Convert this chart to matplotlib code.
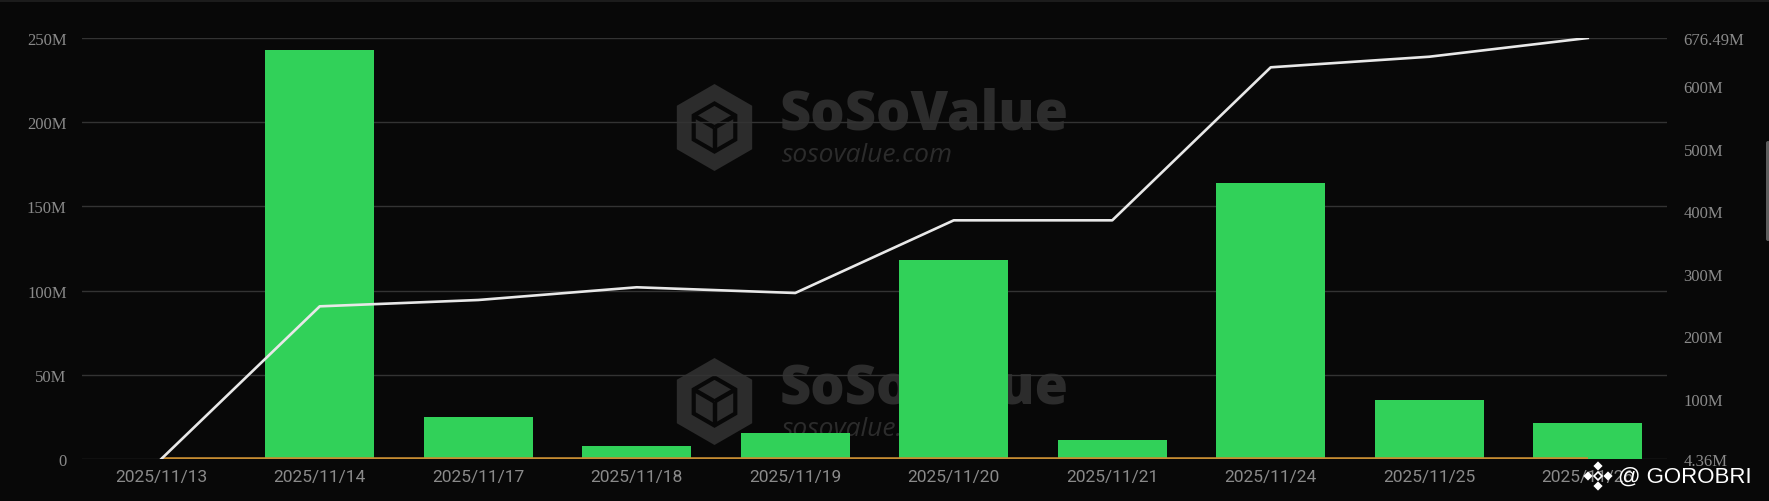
import matplotlib
matplotlib.use("Agg")
import matplotlib.pyplot as plt
from matplotlib.patches import RegularPolygon, FancyBboxPatch, Rectangle
import numpy as np

# ---------------- data ----------------
dates = ['2025/11/13', '2025/11/14', '2025/11/17', '2025/11/18', '2025/11/19',
         '2025/11/20', '2025/11/21', '2025/11/24', '2025/11/25', '2025/11/26']
daily_net_inflow_m = [0, 243.0, 24.8, 7.9, 15.2, 118.0, 11.3, 164.1, 35.0, 21.4]
cumulative_inflow_m = [4.36, 248.1, 258.2, 278.5, 269.4, 385.4, 385.4, 629.7, 646.6, 676.49]
zero_series_m = [0, 0, 0, 0, 0, 0, 0, 0, 0, 0]

left_ticks_m = [0, 50, 100, 150, 200, 250]
left_tick_labels = ['0', '50M', '100M', '150M', '200M', '250M']
right_ticks_m = [4.36, 100, 200, 300, 400, 500, 600, 676.49]
right_tick_labels = ['4.36M', '100M', '200M', '300M', '400M', '500M', '600M', '676.49M']

# ---------------- style ----------------
BG = '#080808'
GREEN = '#31d159'
WHITE_LINE = '#e8e8e8'
ORANGE = '#c68c32'
GRID = '#333333'
TICK = '#8a8a8a'
WM = '#2c2c2c'

W, H = 1769, 502
fig = plt.figure(figsize=(W / 100, H / 100), dpi=100, facecolor=BG)

# watermark layer (behind chart)
wm = fig.add_axes([0, 0, 1, 1], zorder=0)
wm.set_xlim(0, W)
wm.set_ylim(H, 0)
wm.axis('off')
wm.patch.set_visible(False)

def sosovalue(ax, y0):
    cx, cy = 714.5, y0 + 43.5
    ax.add_patch(RegularPolygon((cx, cy), numVertices=6, radius=43.5,
                                orientation=0, facecolor=WM, edgecolor='none'))
    r = 43.5
    ang = np.deg2rad([90, 210, 330])
    for a in ang:
        ax.plot([cx, cx + 0.55 * r * np.cos(a)], [cy, cy + 0.55 * r * np.sin(a)],
                color=BG, lw=3.2, solid_capstyle='butt')
    ax.add_patch(RegularPolygon((cx, cy), numVertices=6, radius=24,
                                orientation=0, facecolor='none', edgecolor=BG, lw=3))
    ax.text(780, y0 + 30, 'SoSoValue', color=WM, fontsize=39, fontweight='heavy',
            family=['Open Sans', 'DejaVu Sans'], va='center', ha='left')
    ax.text(782, y0 + 71, 'sosovalue.com', color=WM, fontsize=19, style='italic',
            family=['Open Sans', 'DejaVu Sans'], va='center', ha='left')

sosovalue(wm, 85)
sosovalue(wm, 359)

# top thin border
wm.add_patch(Rectangle((0, 0), W, 3, facecolor='#1c1c1c', edgecolor='none'))

# ---------------- main axes ----------------
left, right = 82 / W, 1667 / W
bottom, top = 1 - 460 / H, 1 - 39 / H
ax = fig.add_axes([left, bottom, right - left, top - bottom], zorder=1)
ax.patch.set_visible(False)
x = np.arange(len(dates))

ax.bar(x, daily_net_inflow_m, width=0.69, color=GREEN, zorder=2)
ax.plot(x, zero_series_m, color=ORANGE, lw=2.6, zorder=4, solid_capstyle='butt')

ax.set_xlim(-0.5, len(dates) - 0.5)
ax.set_ylim(0, 250)
ax.set_yticks(left_ticks_m)
ax.set_yticklabels(left_tick_labels)
ax.yaxis.grid(True, color=GRID, lw=1.0, zorder=0)
ax.set_axisbelow(True)
for s in ax.spines.values():
    s.set_visible(False)
ax.tick_params(axis='y', length=0, pad=11, labelcolor=TICK, labelsize=12)
for lab in ax.get_yticklabels():
    lab.set_family(['Liberation Serif', 'DejaVu Serif'])
ax.set_xticks(x)
ax.set_xticklabels(dates)
ax.tick_params(axis='x', length=0, pad=7, labelcolor=TICK, labelsize=12.5)
for lab in ax.get_xticklabels():
    lab.set_family(['Liberation Sans Narrow', 'Roboto', 'DejaVu Sans'])

ax2 = ax.twinx()
ax2.set_zorder(2)
ax2.patch.set_visible(False)
ax2.plot(x, cumulative_inflow_m, color=WHITE_LINE, lw=1.9, zorder=3)
ax2.set_ylim(4.36, 676.49)
ax2.set_yticks(right_ticks_m)
ax2.set_yticklabels(right_tick_labels)
for s in ax2.spines.values():
    s.set_visible(False)
ax2.tick_params(axis='y', length=0, pad=12, labelcolor=TICK, labelsize=12)
for lab in ax2.get_yticklabels():
    lab.set_family(['Liberation Serif', 'DejaVu Serif'])

# ---------------- overlay (top) ----------------
ov = fig.add_axes([0, 0, 1, 1], zorder=5)
ov.set_xlim(0, W)
ov.set_ylim(H, 0)
ov.axis('off')
ov.patch.set_visible(False)

# scrollbar at right edge
ov.add_patch(FancyBboxPatch((1766, 142), 4, 100, boxstyle='round,pad=0,rounding_size=2',
                            facecolor='#5e5e5e', edgecolor='none'))

# binance-like logo + handle
bx, by = 1598, 477
for dx, dy in [(0, -10), (-10, 0), (10, 0), (0, 10)]:
    ov.add_patch(RegularPolygon((bx + dx, by + dy), numVertices=4, radius=4.6,
                                orientation=0, facecolor='white', edgecolor='none'))
ov.add_patch(RegularPolygon((bx, by), numVertices=4, radius=4.0,
                            orientation=0, facecolor='none', edgecolor='white', lw=1.2))
ov.text(1618, by, '@ GOROBRI', color='white', fontsize=16,
        family=['Liberation Sans', 'DejaVu Sans'], va='center', ha='left')

fig.savefig('out.png', dpi=100, facecolor=BG)
